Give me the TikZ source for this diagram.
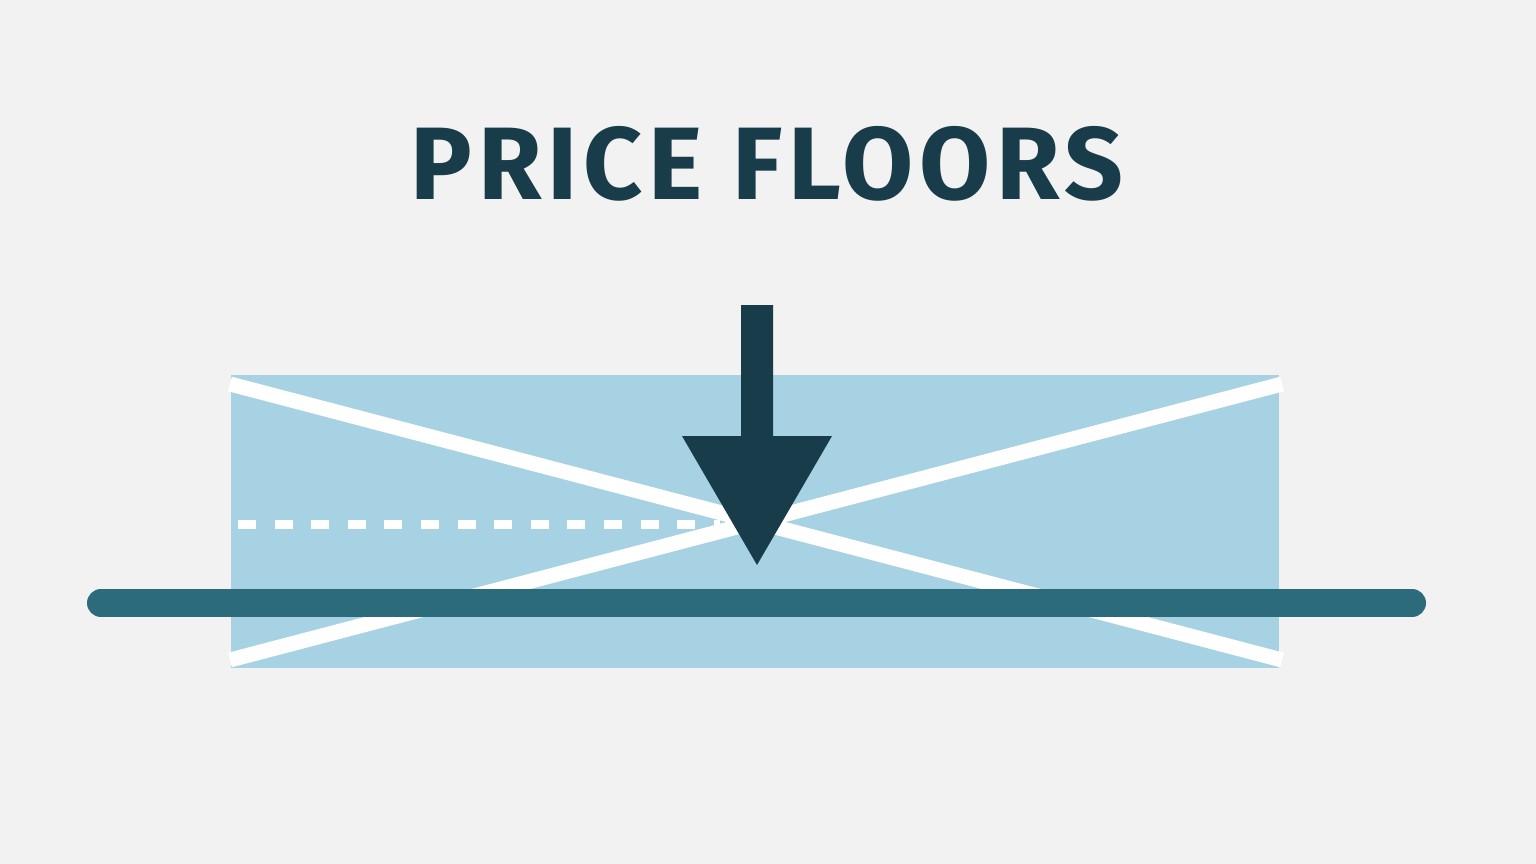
\documentclass[tikz,border=0pt]{standalone}
\usepackage{fontspec}
\setmainfont{Fira Sans}[BoldFont={Fira Sans Bold}]
\definecolor{bgc}{HTML}{F1F2F1}
\definecolor{boxc}{HTML}{A6D2E3}
\definecolor{darkc}{HTML}{183C4A}
\definecolor{tealc}{HTML}{2C6B7B}
\tikzset{
  whiteline/.style={draw=white,line width=15pt},
  dashline/.style={draw=white,line width=9pt,dash pattern=on 18pt off 18.6pt},
  floorline/.style={draw=tealc,line width=28pt,line cap=round},
  arrowshape/.style={fill=darkc,draw=none},
}
\begin{document}
\begin{tikzpicture}[x=1pt,y=-1pt]
\fill[bgc] (0,0) rectangle (1536,864);
\useasboundingbox (0,0) rectangle (1536,864);
\node[anchor=base,text=darkc,font=\fontsize{103}{110}\selectfont\bfseries,inner sep=0pt] (title) at (767,199) {\addfontfeature{LetterSpace=5.5}PRICE FLOORS};
\fill[boxc] (231,375) rectangle (1279,668);
\coordinate (tl) at (230,384);
\coordinate (br) at (1282,660);
\coordinate (bl) at (230,660);
\coordinate (tr) at (1282,384);
\draw[whiteline] (tl) -- (br);
\draw[whiteline] (bl) -- (tr);
\coordinate (ds) at (238,524);
\coordinate (de) at (720,524);
\draw[dashline] (ds) -- (de);
\coordinate (fl) at (101,603);
\coordinate (fr) at (1412,603);
\draw[floorline] (fl) -- (fr);
\fill[arrowshape] (741,305) -- (773,305) -- (773,436) -- (832,436) -- (757,565) -- (682,436) -- (741,436) -- cycle;
\end{tikzpicture}
\end{document}
